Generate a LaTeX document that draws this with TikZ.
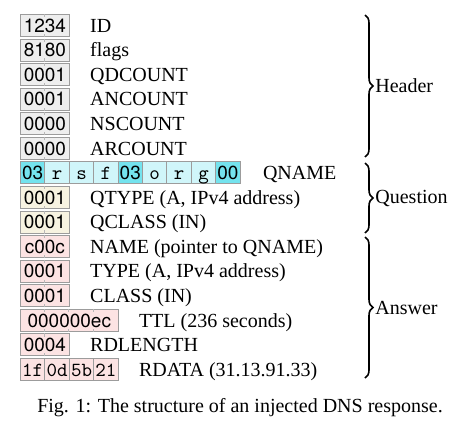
\documentclass[tikz,border=0pt]{standalone}
\usepackage{fontspec}
\setmainfont{Liberation Serif}
\newfontfamily\hexsf{TeX Gyre Heros}
\usetikzlibrary{calc,decorations.pathreplacing}
\definecolor{bord}{HTML}{9C9C9C}
\definecolor{tickc}{HTML}{B8B8B8}
\definecolor{hdrfill}{HTML}{EEEEEE}
\definecolor{lenfill}{HTML}{74E3EE}
\definecolor{chrfill}{HTML}{D0F6FA}
\definecolor{qfill}{HTML}{F7F3E1}
\definecolor{afill}{HTML}{FCE3E3}
\tikzset{
  fbox/.style={draw=bord, line width=0.5pt, minimum height=11pt, inner sep=0pt,
    text height=6.7pt, text depth=0pt, font=\hexsf\fontsize{9.5}{9.5}\selectfont,
    anchor=north west},
  ttbox/.style={fbox, font=\ttfamily\fontsize{10}{10}\selectfont},
  hdr/.style={fill=hdrfill},
  qst/.style={fill=qfill},
  ans/.style={fill=afill},
  lenb/.style={fill=lenfill},
  chrb/.style={fill=chrfill},
  tickln/.style={draw=tickc, line width=0.4pt},
  lbl/.style={anchor=base west, inner sep=0pt, font=\fontsize{10}{12}\selectfont},
  brc/.style={decorate, decoration={brace, amplitude=4pt}, line width=0.8pt},
  blbl/.style={anchor=west, inner sep=0pt, font=\fontsize{10}{12}\selectfont}
}
\newcommand\fld[6]{%
  \node[fbox,#4,minimum width=#3*12.2pt] (#1) at (20,{14+24.57*#2}) {#5};
  \pgfmathtruncatemacro\nbm{#3-1}%
  \foreach \k in {1,...,\nbm}{%
    \draw[tickln] ($(#1.north west)+(\k*12.2pt,0)$) -- ++(0,-1.6pt);
    \draw[tickln] ($(#1.south west)+(\k*12.2pt,0)$) -- ++(0,1.6pt);
  }%
  \node[lbl] (#1l) at ($(#1.base east)+(10pt,0)$) {#6};
}
\begin{document}
\begin{tikzpicture}[x=0.5pt,y=-0.5pt]
\useasboundingbox[fill=white] (0,0) rectangle (474,440);
% Header
\fld{id}{0}{2}{hdr}{1234}{ID}
\fld{fl}{1}{2}{hdr}{8180}{flags}
\fld{qd}{2}{2}{hdr}{0001}{QDCOUNT}
\fld{an}{3}{2}{hdr}{0001}{ANCOUNT}
\fld{ns}{4}{2}{hdr}{0000}{NSCOUNT}
\fld{ar}{5}{2}{hdr}{0000}{ARCOUNT}
% QNAME
\node[fbox,lenb,minimum width=12.2pt] (q1) at ({20+24.4*0},{14+24.57*6}) {03};
\node[ttbox,chrb,minimum width=12.2pt] (q2) at ({20+24.4*1},{14+24.57*6}) {r};
\node[ttbox,chrb,minimum width=12.2pt] (q3) at ({20+24.4*2},{14+24.57*6}) {s};
\node[ttbox,chrb,minimum width=12.2pt] (q4) at ({20+24.4*3},{14+24.57*6}) {f};
\node[fbox,lenb,minimum width=12.2pt] (q5) at ({20+24.4*4},{14+24.57*6}) {03};
\node[ttbox,chrb,minimum width=12.2pt] (q6) at ({20+24.4*5},{14+24.57*6}) {o};
\node[ttbox,chrb,minimum width=12.2pt] (q7) at ({20+24.4*6},{14+24.57*6}) {r};
\node[ttbox,chrb,minimum width=12.2pt] (q8) at ({20+24.4*7},{14+24.57*6}) {g};
\node[fbox,lenb,minimum width=12.2pt] (q9) at ({20+24.4*8},{14+24.57*6}) {00};
\node[lbl] (qnl) at ($(q9.base east)+(11pt,0)$) {QNAME};
% Question
\fld{qt}{7}{2}{qst}{0001}{QTYPE (A, IPv4 address)}
\fld{qc}{8}{2}{qst}{0001}{QCLASS (IN)}
% Answer
\fld{nm}{9}{2}{ans}{c00c}{NAME (pointer to QNAME)}
\fld{ty}{10}{2}{ans}{0001}{TYPE (A, IPv4 address)}
\fld{cl}{11}{2}{ans}{0001}{CLASS (IN)}
\fld{ttl}{12}{4}{ans}{000000ec}{TTL (236 seconds)}
\fld{rl}{13}{2}{ans}{0004}{RDLENGTH}
\node[ttbox,ans,minimum width=12.2pt] (r1) at ({20+24.4*0},{14+24.57*14}) {1f};
\node[ttbox,ans,minimum width=12.2pt] (r2) at ({20+24.4*1},{14+24.57*14}) {0d};
\node[ttbox,ans,minimum width=12.2pt] (r3) at ({20+24.4*2},{14+24.57*14}) {5b};
\node[ttbox,ans,minimum width=12.2pt] (r4) at ({20+24.4*3},{14+24.57*14}) {21};
\node[lbl] (rdl) at ($(r4.base east)+(10pt,0)$) {RDATA (31.13.91.33)};
% Braces
\coordinate (hT) at (365,15);
\coordinate (hB) at (365,157);
\coordinate (qT) at (365,163);
\coordinate (qB) at (365,233);
\coordinate (aT) at (365,237);
\coordinate (aB) at (365,378);
\draw[brc] (hT) -- (hB);
\draw[brc] (qT) -- (qB);
\draw[brc] (aT) -- (aB);
\node[blbl] (hl) at ($(hT)!0.5!(hB)+(5pt,0)$) {Header};
\node[blbl] (ql) at ($(qT)!0.5!(qB)+(5pt,0)$) {Question};
\node[blbl] (al) at ($(aT)!0.5!(aB)+(5pt,0)$) {Answer};
% Caption
\node[anchor=base, inner sep=0pt, font=\fontsize{10}{12}\selectfont] (cap) at (240,412) {Fig. 1: The structure of an injected DNS response.};
\end{tikzpicture}
\end{document}
